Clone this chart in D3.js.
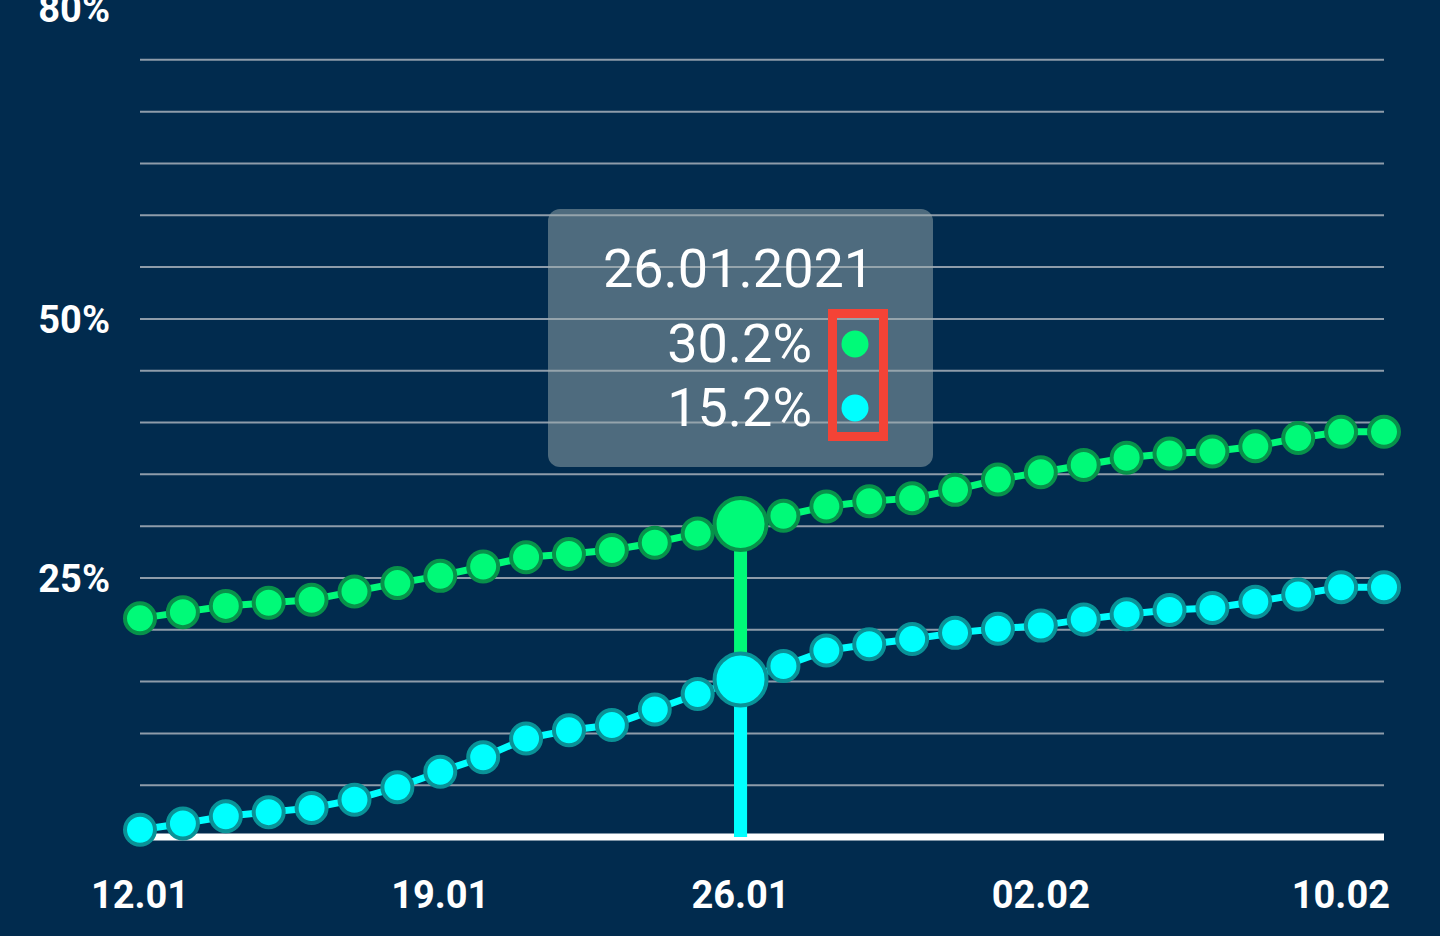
<!DOCTYPE html>
<html>
<head>
<meta charset="utf-8">
<script src="https://cdn.jsdelivr.net/npm/d3@7"></script>
<style>
  html, body { margin: 0; padding: 0; background: #012b4e; }
  svg { display: block; font-family: Roboto, "Noto Sans", sans-serif; }
</style>
</head>
<body>
<div id="chart"></div>
<script>
////////////////////////////////////////////////////////////////////////
// Data

let dates = [
  "12.01", "13.01", "14.01", "15.01", "16.01", "17.01", "18.01", "19.01",
  "20.01", "21.01", "22.01", "23.01", "24.01", "25.01", "26.01", "27.01",
  "28.01", "29.01", "30.01", "31.01", "01.02", "02.02", "03.02", "04.02",
  "05.02", "06.02", "07.02", "08.02", "09.02", "10.02"
];

// green series (upper line), percent
let greenValues = [
  21.1, 21.7, 22.3, 22.6, 22.9, 23.7, 24.5, 25.2, 26.1, 27.0,
  27.3, 27.7, 28.4, 29.3, 30.2, 31.0, 31.9, 32.4, 32.7, 33.5,
  34.5, 35.2, 35.9, 36.6, 37.0, 37.2, 37.7, 38.5, 39.1, 39.1
];

// cyan series (lower line), percent
let cyanValues = [
  0.7, 1.3, 2.0, 2.4, 2.8, 3.6, 4.8, 6.3, 7.7, 9.5,
  10.3, 10.8, 12.3, 13.8, 15.2, 16.5, 18.0, 18.6, 19.1, 19.7,
  20.1, 20.4, 21.0, 21.5, 21.9, 22.1, 22.7, 23.4, 24.1, 24.1
];

let xTickLabels = ["12.01", "19.01", "26.01", "02.02", "10.02"];
let yTickValues = [25, 50, 80];
let gridValues = [5, 10, 15, 20, 25, 30, 35, 40, 45, 50, 55, 60, 65, 70, 75];

// hovered day shown in the tooltip
let focusDate = "26.01";
let focusTitle = "26.01.2021";

////////////////////////////////////////////////////////////////////////
// svg + scales

let width = 1440;
let height = 936;

let svg = d3.select("#chart")
  .append("svg")
  .attr("width", width).attr("height", height);

svg.append("rect")
  .attr("width", width).attr("height", height)
  .attr("fill", "#012b4e");

let xScale = d3.scalePoint()
  .domain(dates)
  .range([140, 1384]);

let yScale = d3.scaleLinear()
  .domain([0, 80])
  .range([837, 8]);

let series = [
  { name: "green", values: greenValues, fill: "#00fa78", stroke: "#08914a" },
  { name: "cyan", values: cyanValues, fill: "#00ffff", stroke: "#0a9297" }
];

////////////////////////////////////////////////////////////////////////
// gridlines and baseline

svg.append("g")
  .selectAll(".grid")
  .data(gridValues)
  .enter()
  .append("line")
  .attr("class", "grid")
  .attr("x1", xScale(dates[0]))
  .attr("x2", xScale(dates[dates.length - 1]))
  .attr("y1", (d) => yScale(d))
  .attr("y2", (d) => yScale(d))
  .attr("stroke", "#8e9caa")
  .attr("stroke-width", 2);

svg.append("line")
  .attr("x1", xScale(dates[0]))
  .attr("x2", xScale(dates[dates.length - 1]))
  .attr("y1", yScale(0))
  .attr("y2", yScale(0))
  .attr("stroke", "#ffffff")
  .attr("stroke-width", 7);

// y labels (the top one sits at the edge, as in the original)
svg.selectAll(".ylabel")
  .data(yTickValues)
  .enter()
  .append("text")
  .attr("class", "ylabel")
  .attr("x", 110)
  .attr("y", (d) => yScale(d))
  .attr("dy", "0.36em")
  .attr("text-anchor", "end")
  .attr("fill", "#ffffff")
  .style("font-size", "38px")
  .style("font-weight", "bold")
  .text((d) => d + "%");

// x labels, last one kept inside the plot
svg.selectAll(".xlabel")
  .data(xTickLabels)
  .enter()
  .append("text")
  .attr("class", "xlabel")
  .attr("x", (d, i) => i === xTickLabels.length - 1 ? xScale(d) + 6 : xScale(d))
  .attr("y", 908)
  .attr("text-anchor", (d, i) => i === xTickLabels.length - 1 ? "end" : "middle")
  .attr("fill", "#ffffff")
  .style("font-size", "38px")
  .style("font-weight", "bold")
  .text((d) => d);

////////////////////////////////////////////////////////////////////////
// drop lines at the focused day

let focusIndex = dates.indexOf(focusDate);

svg.selectAll(".dropline")
  .data(series)
  .enter()
  .append("line")
  .attr("class", "dropline")
  .attr("x1", xScale(focusDate))
  .attr("x2", xScale(focusDate))
  .attr("y1", (s) => yScale(s.values[focusIndex]))
  .attr("y2", yScale(0))
  .attr("stroke", (s) => s.fill)
  .attr("stroke-width", 13);

////////////////////////////////////////////////////////////////////////
// lines and dots

let line = d3.line()
  .x((d, i) => xScale(dates[i]))
  .y((d) => yScale(d));

series.forEach(function(s) {
  let g = svg.append("g").attr("class", "series-" + s.name);

  g.append("path")
    .attr("d", line(s.values))
    .attr("fill", "none")
    .attr("stroke", s.fill)
    .attr("stroke-width", 7);

  g.selectAll(".dot")
    .data(s.values)
    .enter()
    .append("circle")
    .attr("class", "dot")
    .attr("cx", (d, i) => xScale(dates[i]))
    .attr("cy", (d) => yScale(d))
    .attr("r", (d, i) => i === focusIndex ? 26 : 15)
    .attr("fill", s.fill)
    .attr("stroke", s.stroke)
    .attr("stroke-width", 4);
});

////////////////////////////////////////////////////////////////////////
// tooltip

let tip = svg.append("g").attr("class", "tooltip");

tip.append("rect")
  .attr("x", 548).attr("y", 209)
  .attr("width", 385).attr("height", 258)
  .attr("rx", 12)
  .attr("fill", "rgb(155,171,174)")
  .attr("fill-opacity", 0.5);

tip.append("text")
  .attr("x", xScale(focusDate) - 2)
  .attr("y", 287)
  .attr("text-anchor", "middle")
  .attr("fill", "#ffffff")
  .style("font-size", "54px")
  .text(focusTitle);

let rowY = [362, 426];
series.forEach(function(s, i) {
  tip.append("text")
    .attr("x", 812)
    .attr("y", rowY[i])
    .attr("text-anchor", "end")
    .attr("fill", "#ffffff")
    .style("font-size", "54px")
    .text(s.values[focusIndex].toFixed(1) + "%");

  tip.append("circle")
    .attr("cx", 855)
    .attr("cy", rowY[i] - 18)
    .attr("r", 13.5)
    .attr("fill", s.fill);
});

// red frame around the legend dots
tip.append("rect")
  .attr("x", 832.5).attr("y", 313.5)
  .attr("width", 51).attr("height", 123)
  .attr("fill", "none")
  .attr("stroke", "#f44336")
  .attr("stroke-width", 9);
</script>
</body>
</html>
